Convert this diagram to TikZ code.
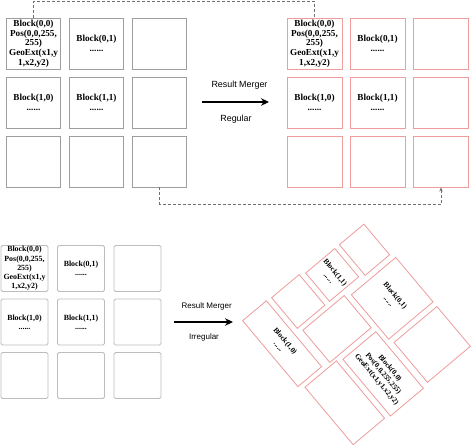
\documentclass[tikz,border=0pt]{standalone}
\usepackage{fontspec}
\setmainfont{Liberation Serif}
\setsansfont{Liberation Sans}
\usetikzlibrary{arrows.meta}
\definecolor{color_grid}{HTML}{9E9E9E}
\definecolor{color_gridlight}{HTML}{BDBDBD}
\definecolor{color_merged}{HTML}{EE9C9C}
\definecolor{color_link}{HTML}{707070}

\begin{document}
\begin{tikzpicture}[x=1pt, y=1pt, node distance=63pt, every node/.style={fill=white}, align=center]
  \tikzset{ % Specifications for style of nodes:
      cell/.style = {rectangle, draw=color_grid, line width=0.9pt, minimum width=54pt, minimum height=51pt, inner sep=0pt, font=\fontsize{9.2}{9.7}\selectfont\bfseries},
      merged/.style = {cell, draw=color_merged, minimum width=55pt},
      smallcell/.style = {cell, draw=color_gridlight, rounded corners=1.5pt, minimum width=47pt, minimum height=46pt, font=\fontsize{7.9}{9.3}\selectfont\bfseries},
      tilted/.style = {rectangle, draw=color_merged, line width=0.8pt, inner sep=0pt, font=\fontsize{7.4}{8.7}\selectfont\bfseries},
      caption/.style = {inner sep=1pt, font=\sffamily\fontsize{8.9}{10}\selectfont},
      merge/.style = {line width=2.2pt, -{Stealth[length=8pt, width=7.5pt]}},
      link/.style = {color_link, line width=0.8pt, dashed, dash pattern=on 3pt off 2pt},
  }
  \useasboundingbox (0,0) rectangle (474,-445);

  % regular grid, before merging
  \node (l00) [cell] at (33.5,-43.5) {Block(0,0)\\Pos(0,0,255,\\255)\\GeoExt(x1,y\\1,x2,y2)};
  \node (l01) [cell, right of=l00] {Block(0,1)\\......};
  \node (l02) [cell, right of=l01] {};
  \node (l10) [cell, below of=l00, yshift=4pt] {Block(1,0)\\......};
  \node (l11) [cell, right of=l10] {Block(1,1)\\......};
  \node (l12) [cell, right of=l11] {};
  \node (l20) [cell, below of=l10, yshift=4pt] {};
  \node (l21) [cell, right of=l20] {};
  \node (l22) [cell, right of=l21] {};

  % regular grid, merged
  \node (r00) [merged] at (314.5,-43.5) {Block(0,0)\\Pos(0,0,255,\\255)\\GeoExt(x1,y\\1,x2,y2)};
  \node (r01) [merged, right of=r00] {Block(0,1)\\......};
  \node (r02) [merged, right of=r01, xshift=0.5pt] {};
  \node (r10) [merged, below of=r00, yshift=4pt] {Block(1,0)\\......};
  \node (r11) [merged, right of=r10] {Block(1,1)\\......};
  \node (r12) [merged, right of=r11, xshift=0.5pt] {};
  \node (r20) [merged, below of=r10, yshift=4pt] {};
  \node (r21) [merged, right of=r20] {};
  \node (r22) [merged, right of=r21, xshift=0.5pt] {};

  \coordinate (regfrom) at (202,-102);
  \coordinate (regto) at (269,-102);
  \draw[merge] (regfrom) -- (regto);
  \node (regmerger) [caption] at (239.5,-85) {Result Merger};
  \node (regular) [caption] at (236,-119) {Regular};

  \draw[link] (l00.north) -- ++(0,16.5) -| (r00.north);
  \draw[link, -{Stealth[length=4pt, width=3.5pt]}] (l22.south) -- ++(0,-17) -| (r22.south);

  % irregular grid, before merging
  \node (s00) [smallcell] at (24.5,-268.5) {Block(0,0)\\Pos(0,0,255,\\255)\\GeoExt(x1,y\\1,x2,y2)};
  \node (s01) [smallcell, right of=s00, xshift=-6.5pt] {Block(0,1)\\......};
  \node (s02) [smallcell, right of=s01, xshift=-6.5pt] {};
  \node (s10) [smallcell, below of=s00, yshift=9.5pt] {Block(1,0)\\......};
  \node (s11) [smallcell, right of=s10, xshift=-6.5pt] {Block(1,1)\\......};
  \node (s12) [smallcell, right of=s11, xshift=-6.5pt] {};
  \node (s20) [smallcell, below of=s10, yshift=9.5pt] {};
  \node (s21) [smallcell, right of=s20, xshift=-6.5pt] {};
  \node (s22) [smallcell, right of=s21, xshift=-6.5pt] {};

  \coordinate (irrfrom) at (174,-322);
  \coordinate (irrto) at (233,-322);
  \draw[merge] (irrfrom) -- (irrto);
  \node (irrmerger) [caption, font=\sffamily\fontsize{8}{9}\selectfont] at (206.7,-306) {Result Merger};
  \node (irregular) [caption, font=\sffamily\fontsize{8}{9}\selectfont] at (204,-337) {Irregular};

  % irregular grid, merged (tilted)
  \begin{scope}[shift={(300,-330)}, rotate=-50, transform shape]
    \node (t10) [tilted, minimum width=86pt, minimum height=31pt] at (-1,-22.5) {Block(1,0)\\......};
    \node (te1) [tilted, minimum width=40pt, minimum height=36pt] at (-23,17) {};
    \node (t11) [tilted, minimum width=37pt, minimum height=38pt] at (-21.5,60) {Block(1,1)\\......};
    \node (ta) [tilted, minimum width=40pt, minimum height=32pt] at (-20,101) {};
    \node (tc) [tilted, minimum width=42pt, minimum height=54pt] at (23,29) {};
    \node (t01) [tilted, minimum width=58pt, minimum height=58pt] at (35,91) {Block(0,1)\\......};
    \node (tb) [tilted, minimum width=75pt, minimum height=41pt] at (84.5,-12.5) {};
    \node (t00) [tilted, minimum width=74pt, minimum height=43pt] at (87,35.5) {Block(0,0)\\Pos(0,0,255,255)\\GeoExt(x1,y1,x2,y2)};
    \node (tr) [tilted, minimum width=52pt, minimum height=56pt] at (96,92) {};
  \end{scope}
\end{tikzpicture}
\end{document}
